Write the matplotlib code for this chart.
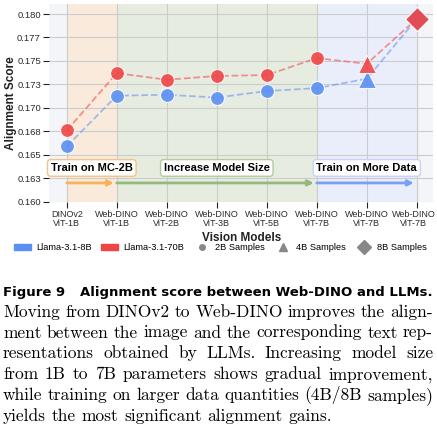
import numpy as np
import matplotlib
matplotlib.use('Agg')
import matplotlib.pyplot as plt
from matplotlib.patches import Patch
from matplotlib.lines import Line2D
from matplotlib.transforms import ScaledTranslation

plt.rcParams['font.family'] = ['Liberation Sans', 'DejaVu Sans']

# values
models = ['DINOv2\nViT-1B', 'Web-DINO\nViT-1B', 'Web-DINO\nViT-2B', 'Web-DINO\nViT-3B',
          'Web-DINO\nViT-5B', 'Web-DINO\nViT-7B', 'Web-DINO\nViT-7B', 'Web-DINO\nViT-7B']
llama_8b = [0.1659, 0.1713, 0.1714, 0.1711, 0.1718, 0.1721, 0.1731, 0.1795]
llama_70b = [0.1676, 0.1737, 0.1730, 0.1734, 0.1735, 0.1753, 0.1747, 0.1795]
samples = ['2B', '2B', '2B', '2B', '2B', '2B', '4B', '8B']
sample_names = ['2B Samples', '4B Samples', '8B Samples']
yticks = [0.160, 0.1625, 0.165, 0.1675, 0.170, 0.1725, 0.175, 0.1775, 0.180]
ytick_labels = ['0.160', '0.163', '0.165', '0.168', '0.170', '0.173', '0.175', '0.177', '0.180']

stages = ['Train on MC-2B', 'Increase Model Size', 'Train on More Data']
stage_start = [0, 1, 5]
stage_end = [1, 5, 7]

caption_title = ['Figure 9', 'Alignment score between Web-DINO and LLMs.']
caption_lines = [
    'Moving from DINOv2 to Web-DINO improves the align-',
    'ment between the image and the corresponding text rep-',
    'resentations obtained by LLMs.  Increasing model size',
    'from 1B to 7B parameters shows gradual improvement,',
    'while training on larger data quantities (4B/8B samples)',
    'yields the most significant alignment gains.',
]

blue = '#5b8ff2'
red = '#ef4545'
stage_fill = ['#f9eadb', '#e7ece1', '#eaeefb']
stage_edge = ['#f3c288', '#b3caa0', '#c6d3f7']
stage_arrow = ['#f5b35c', '#94b97c', '#7aa0f5']
marker_of = {'2B': 'o', '4B': '^', '8B': 'D'}
msize = {'2B': 10, '4B': 13, '8B': 12}

W, H = 437, 428
fig = plt.figure(figsize=(W / 100, H / 100), dpi=100)
ax = fig.add_axes([49.3 / W, 1 - 201.7 / H, (433.3 - 49.3) / W, (201.7 - 4) / H])
ax.set_facecolor('#f4f5f9')

x = np.arange(len(models))
for s, e, c in zip(stage_start, stage_end, stage_fill):
    ax.axvspan(s, e, color=c, lw=0, zorder=0)

ax.grid(color='#cccccc', lw=0.8)
ax.set_axisbelow(False)
for sp in ax.spines.values():
    sp.set_visible(False)

for ys, c, z in [(llama_8b, blue, 3), (llama_70b, red, 5)]:
    ax.plot(x, ys, '--', color=c, alpha=0.55, lw=1.3, zorder=z)
    for xi, yi, s in zip(x, ys, samples):
        ax.plot(xi, yi, marker=marker_of[s], ms=msize[s], color=c, mec='white',
                mew=0.8, alpha=0.9, zorder=z + 1)

ybox = 0.1636
yarr = 0.1620
for lab, s, e, ec, ac in zip(stages, stage_start, stage_end, stage_edge, stage_arrow):
    ax.text((s + e) / 2, ybox, lab, ha='center', va='center', fontsize=8,
            fontweight='bold', zorder=8,
            bbox=dict(boxstyle='round,pad=0.3,rounding_size=0.3', fc='white', ec=ec, lw=1))
    ax.annotate('', xy=(e - 0.06, yarr), xytext=(s, yarr), zorder=7,
                arrowprops=dict(arrowstyle='-|>', color=ac, lw=2, mutation_scale=8,
                                shrinkA=0, shrinkB=0))

ax.set_xlim(-0.35, 7.33)
ax.set_ylim(0.160, 0.18107)
ax.set_xticks(x)
ax.set_xticklabels(models, fontsize=6.5, color='#2a2a2a', linespacing=1.0)
ax.set_yticks(yticks)
ax.set_yticklabels(ytick_labels, fontsize=6.8, color='#2a2a2a')
ax.tick_params(length=4, width=0.8, color='#222222', pad=2)
# last label sits against the right edge; nudge it in a little
last = ax.xaxis.get_major_ticks()[-1].label1
last.set_transform(last.get_transform() + ScaledTranslation(-3 / 100, 0, fig.dpi_scale_trans))
ax.set_xlabel('Vision Models', fontsize=8.5, fontweight='bold', labelpad=3, color='#222222')
ax.set_ylabel('Alignment Score', fontsize=8.5, fontweight='bold', color='#222222')
ax.yaxis.set_label_coords(-0.085, 0.5)

handles = [Patch(color=blue, label='Llama-3.1-8B'), Patch(color=red, label='Llama-3.1-70B')]
for name, key, ms in zip(sample_names, ['2B', '4B', '8B'], [4, 6, 7]):
    handles.append(Line2D([], [], ls='', marker=marker_of[key], ms=ms, color='#888888', label=name))
fig.legend(handles=handles, loc='center', bbox_to_anchor=(0.505, 1 - 248 / H), ncol=5,
           frameon=False, fontsize=6.7, handlelength=1.8, handleheight=0.6,
           handletextpad=0.55, columnspacing=1.0, borderaxespad=0)

# caption below the chart
fig.canvas.draw()
r = fig.canvas.get_renderer()


def px(xp, yp):
    return xp / W, 1 - yp / H


def fit_size(text, width, **kw):
    t = fig.text(0, 0, text, fontsize=10, **kw)
    w = t.get_window_extent(r).width
    t.remove()
    return 10 * width / w


bold_kw = dict(family='DejaVu Sans', fontweight='bold')
sz = fit_size(caption_title[1], 353, **bold_kw)
fig.text(*px(3, 296), caption_title[0], fontsize=sz, va='baseline', **bold_kw)
fig.text(*px(433, 296), caption_title[1], fontsize=sz, va='baseline', ha='right', **bold_kw)

# the last line ends at x=333 with normal spacing, so size the serif font from it
serif = fit_size(caption_lines[-1], 330, family='cmr10')
baselines = [316.7, 337.5, 358.3, 379.2, 400.0, 421.0]
for i, (line, yb) in enumerate(zip(caption_lines, baselines)):
    words = line.split()
    ts = [fig.text(0, 0, w, fontsize=serif, family='cmr10', va='baseline') for w in words]
    ws = [t.get_window_extent(r).width for t in ts]
    if i < len(caption_lines) - 1:
        gap = (430 - sum(ws)) / (len(words) - 1)
    else:
        sp = fig.text(0, 0, 'a b', fontsize=serif, family='cmr10')
        ab = fig.text(0, 0, 'ab', fontsize=serif, family='cmr10')
        gap = sp.get_window_extent(r).width - ab.get_window_extent(r).width
        sp.remove()
        ab.remove()
    xp = 3
    for t, w in zip(ts, ws):
        t.set_position(px(xp, yb))
        xp += w + gap

fig.savefig('out.png', dpi=100)
